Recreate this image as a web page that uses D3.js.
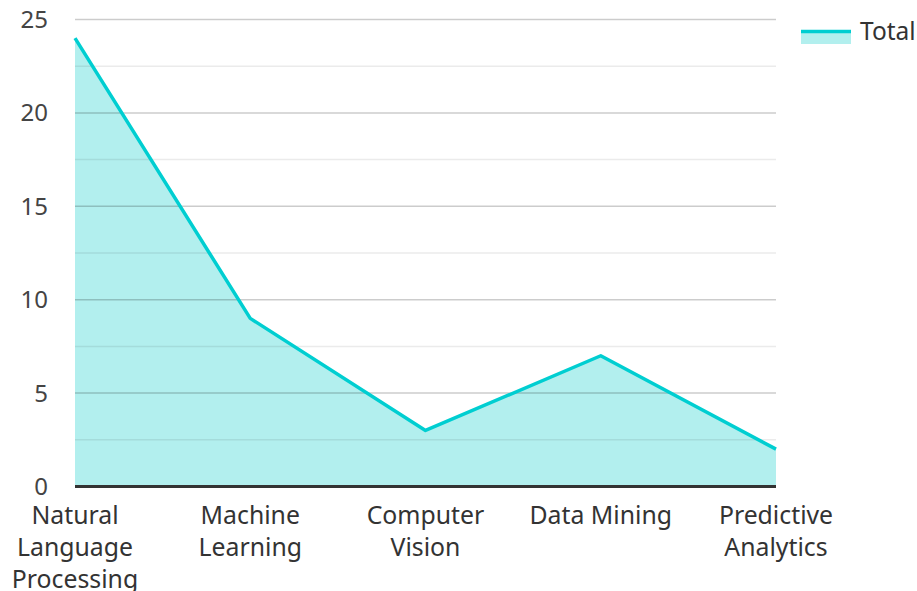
<!DOCTYPE html>
<html lang="en">
<head>
  <meta charset="utf-8">
  <title>Total</title>
  <script src="https://d3js.org/d3.v7.min.js"></script>
  <style>
    body { margin: 0; background: #fff; font-family: "Noto Sans", sans-serif; }
  </style>
</head>
<body>
  <div id="chart"></div>
  <script>
    // data
    const categories = ["Natural Language Processing", "Machine Learning", "Computer Vision", "Data Mining", "Predictive Analytics"];
    const labelLines = [["Natural", "Language", "Processing"], ["Machine", "Learning"], ["Computer", "Vision"], ["Data Mining"], ["Predictive", "Analytics"]];
    const totals = [24, 9, 3, 7, 2];
    const yTicks = [0, 5, 10, 15, 20, 25];
    const minorTicks = [2.5, 7.5, 12.5, 17.5, 22.5];

    const width = 917, height = 591;
    const margin = { top: 19.5, right: 141, bottom: 104.5, left: 75 };

    const svg = d3.select("#chart").append("svg")
      .attr("width", width)
      .attr("height", height);

    const x = d3.scalePoint()
      .domain(categories)
      .range([margin.left, width - margin.right]);

    const y = d3.scaleLinear()
      .domain([0, 25])
      .range([height - margin.bottom, margin.top]);

    const rows = categories.map((c, i) => ({ cat: c, value: totals[i] }));

    // area
    svg.append("path")
      .datum(rows)
      .attr("fill", "#b2efee")
      .attr("d", d3.area()
        .x(d => x(d.cat))
        .y0(y(0))
        .y1(d => y(d.value)));

    // grid lines (drawn over the fill, semi-transparent)
    svg.append("g").selectAll("line")
      .data(minorTicks)
      .join("line")
      .attr("x1", margin.left).attr("x2", width - margin.right)
      .attr("y1", d => y(d)).attr("y2", d => y(d))
      .attr("stroke", "rgba(0,0,0,0.08)")
      .attr("stroke-width", 1.5);

    svg.append("g").selectAll("line")
      .data(yTicks.filter(d => d > 0))
      .join("line")
      .attr("x1", margin.left).attr("x2", width - margin.right)
      .attr("y1", d => y(d)).attr("y2", d => y(d))
      .attr("stroke", "rgba(0,0,0,0.2)")
      .attr("stroke-width", 1.5);

    // line
    svg.append("path")
      .datum(rows)
      .attr("fill", "none")
      .attr("stroke", "#00ced1")
      .attr("stroke-width", 3.5)
      .attr("stroke-linejoin", "round")
      .attr("d", d3.line()
        .x(d => x(d.cat))
        .y(d => y(d.value)));

    // baseline
    svg.append("line")
      .attr("x1", margin.left).attr("x2", width - margin.right)
      .attr("y1", y(0)).attr("y2", y(0))
      .attr("stroke", "#333")
      .attr("stroke-width", 3);

    // y labels
    svg.append("g").selectAll("text")
      .data(yTicks)
      .join("text")
      .attr("x", 48)
      .attr("y", d => y(d) + 8.5)
      .attr("text-anchor", "end")
      .attr("fill", "#444")
      .style("font-size", "24px")
      .text(d => d);

    // x labels
    const xl = svg.append("g").selectAll("text")
      .data(categories)
      .join("text")
      .attr("x", d => x(d))
      .attr("y", 524)
      .attr("text-anchor", "middle")
      .attr("fill", "#333")
      .style("font-size", "24.8px");
    xl.selectAll("tspan")
      .data((d, i) => labelLines[i])
      .join("tspan")
      .attr("x", function () { return this.parentNode.getAttribute("x"); })
      .attr("dy", (d, i) => i === 0 ? 0 : 32)
      .text(d => d);

    // legend
    const lg = svg.append("g");
    lg.append("rect")
      .attr("x", 801).attr("y", 30)
      .attr("width", 50).attr("height", 14)
      .attr("fill", "#b2efee");
    lg.append("line")
      .attr("x1", 801).attr("x2", 851)
      .attr("y1", 31.5).attr("y2", 31.5)
      .attr("stroke", "#00ced1")
      .attr("stroke-width", 3.5);
    lg.append("text")
      .attr("x", 860).attr("y", 40)
      .attr("fill", "#333")
      .style("font-size", "24.5px")
      .text("Total");
  </script>
</body>
</html>
